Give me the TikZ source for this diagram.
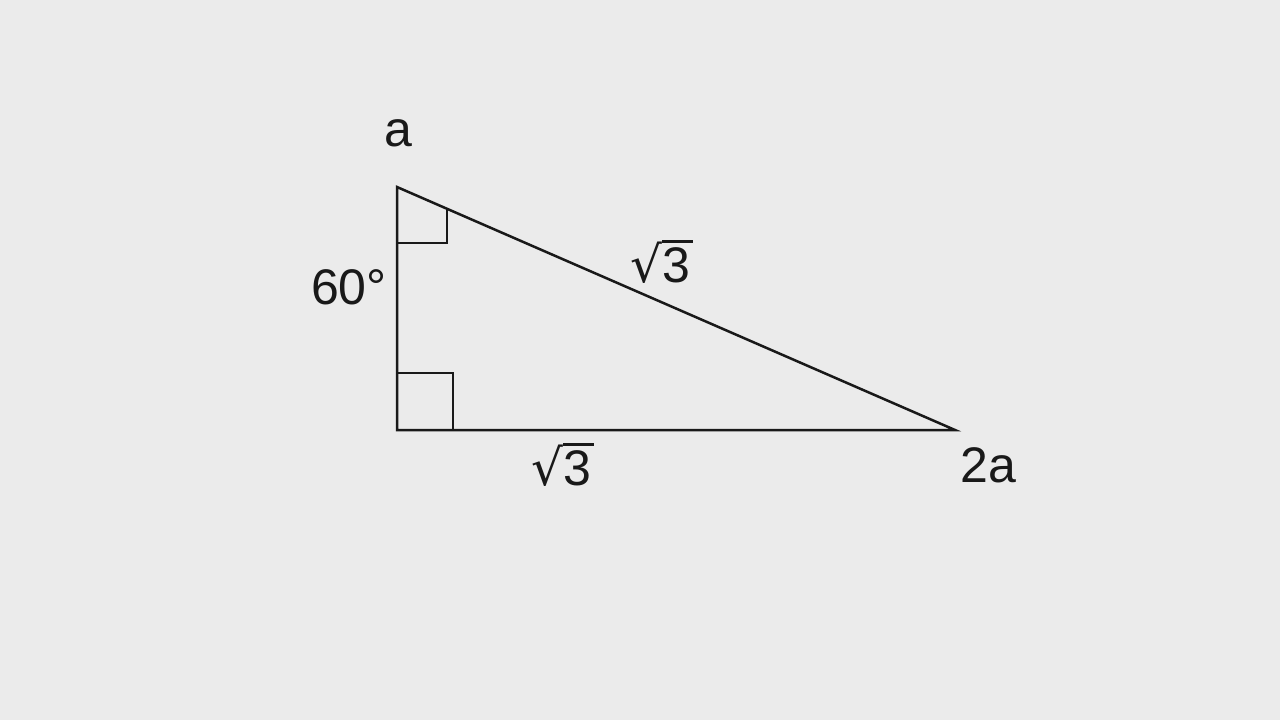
\documentclass[tikz,border=0pt]{standalone}
\usepackage{fontspec}
\setmainfont{Liberation Sans}
\newfontfamily\djv{DejaVu Sans}
\newcommand\rtthree{{\djv √}\rlap{\rule[0.80em]{0.62em}{0.05em}}3}
\begin{document}
\begin{tikzpicture}[x=1pt,y=-1pt,
  edge/.style={draw=black!90,line width=2.5pt,line join=miter},
  anglemark/.style={draw=black!90,line width=2.3pt},
  lbl/.style={font=\fontsize{50}{60}\selectfont,text=black!90,inner sep=0pt}]
\fill[fill={rgb,255:red,235;green,235;blue,235}] (0,0) rectangle (1280,720);
\useasboundingbox (0,0) rectangle (1280,720);
\coordinate (A) at (397,187);
\coordinate (B) at (397,430);
\coordinate (C) at (955,430);
\draw[edge] (A) -- (B) -- (C) -- cycle;
\draw[anglemark] (447,209.5) -- (447,243) -- (397,243);
\draw[anglemark] (397,373) -- (453,373) -- (453,430);
\node[lbl] (la) at (398,133) {a};
\node[lbl] (l60) at (349,287) {60°};
\node[lbl] (lh) at (660,262) {\rtthree};
\node[lbl] (lb) at (561,465) {\rtthree};
\node[lbl] (l2a) at (988,465) {2a};
\end{tikzpicture}
\end{document}
